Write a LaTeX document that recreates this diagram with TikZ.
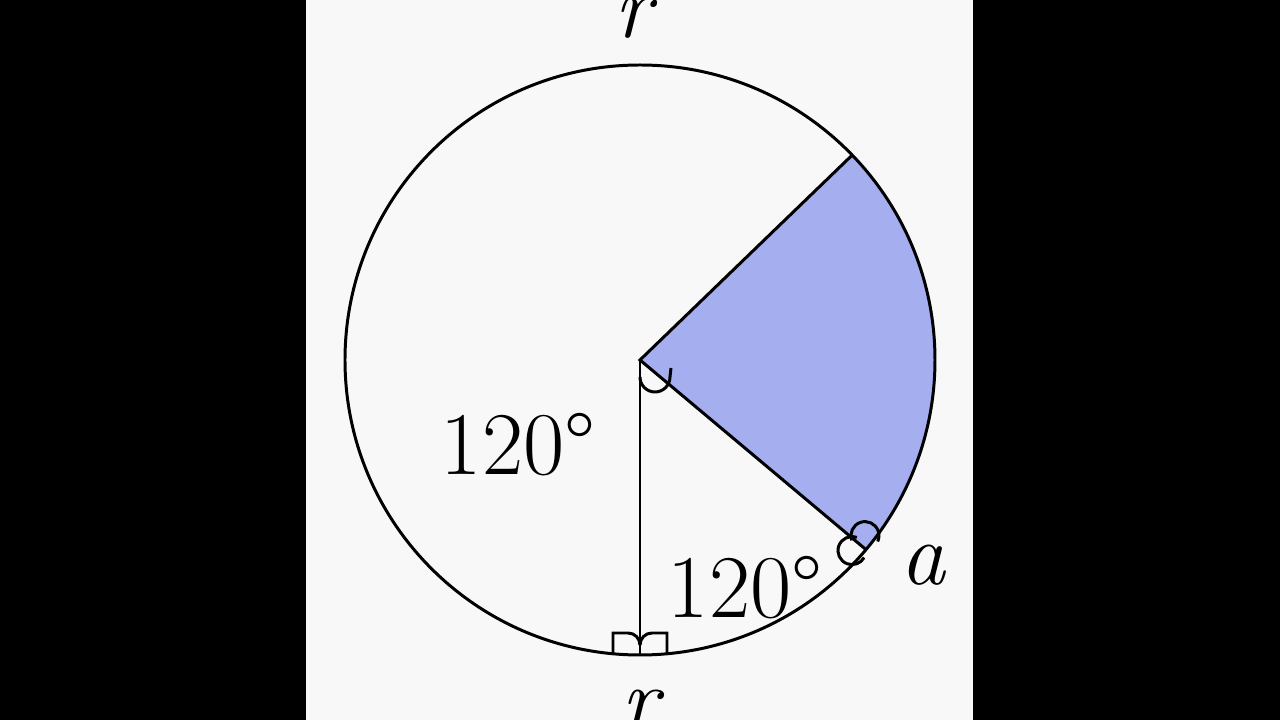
\documentclass[tikz,border=0pt]{standalone}
\usepackage{fontspec}
\usetikzlibrary{positioning, calc}
\definecolor{sectorblue}{RGB}{165,174,238}
\definecolor{panelgray}{RGB}{248,248,248}

\begin{document}
\begin{tikzpicture}[x=0.2mm, y=0.2mm, line width=1.7pt,
  lbl/.style={font=\fontsize{51}{55}\selectfont, inner sep=0pt}]
    % background
    \fill [black] (-640,-360) rectangle (640,360);%
    \fill [panelgray] (-334,-360) rectangle (333,360);%
    \useasboundingbox (-640,-360) rectangle (640,360);%

    % points
    \coordinate (O) at (0,0);%
    \coordinate (T) at (90:295);%
    \coordinate (A) at (44:295);%
    \coordinate (B) at (-40:295);%
    \coordinate (C) at (-90:295);%

    % sector & circle
    \fill [sectorblue] (O) -- (B) arc (-40:44:295) -- cycle;%
    \draw (O) circle (295);%
    \draw (A) -- (O) -- (B);%
    \draw (O) -- (C);%

    % angle marks
    % -- at the centre
    \draw ($(O)+(0,-17)$) arc (180:360:15) -- ($(O)+(31,-8)$);%
    % -- at B
    \draw ($(B)+(-1,14)$) ++(200:14) arc (200:-25:14);%
    \draw ($(B)+(-14,-1)$) ++(70:14) arc (70:330:14);%
    % -- at C
    \draw ($(C)+(-27,1)$) -- ($(C)+(-27,22)$) -- ($(C)+(-12,22)$)
    arc (90:0:12);%
    \draw ($(C)+(27,1)$) -- ($(C)+(27,22)$) -- ($(C)+(12,22)$)
    arc (90:180:12);%

    % labels
    \node [lbl, above=14pt of T, xshift=-4pt] (rtop) {\itshape r};%
    \node [lbl, below=19pt of C] (rbot) {\itshape r};%
    \node [lbl, right=19pt of B, yshift=-9pt] (la) {\itshape a};%
    \node [lbl] (ang1) at (-122,-85) {120°};%
    \node [lbl] (ang2) at (105,-228) {120°};%
\end{tikzpicture}
\end{document}
